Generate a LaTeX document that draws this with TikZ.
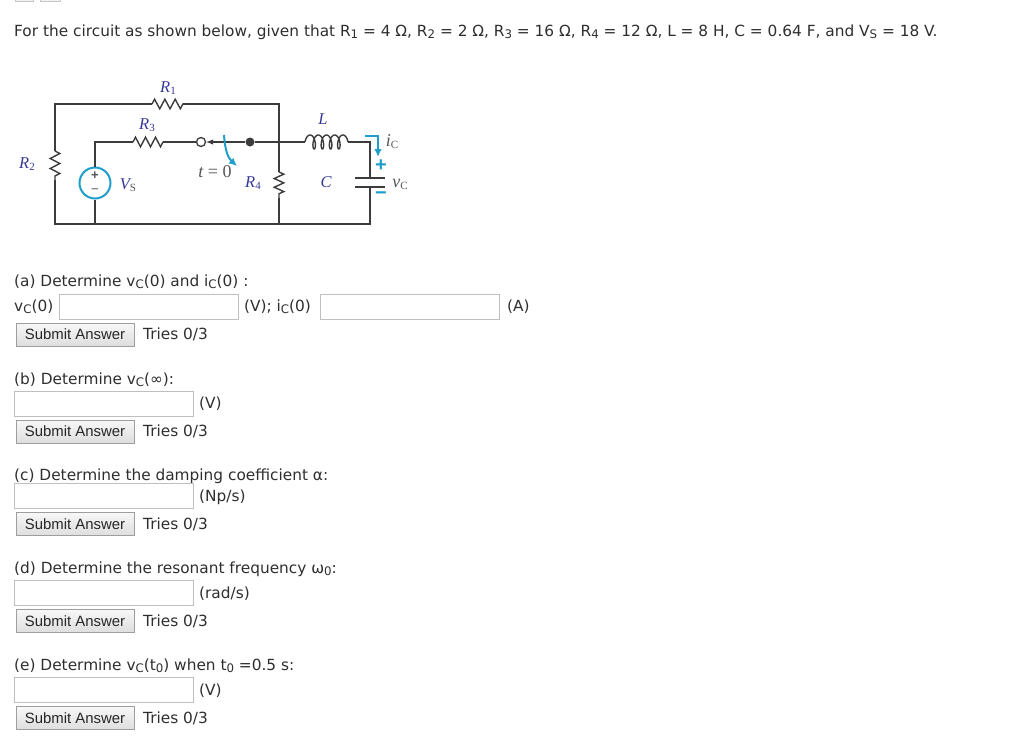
\documentclass[tikz,border=0pt]{standalone}
\usepackage{fontspec}
\setmainfont{DejaVu Sans}
\newfontfamily\btnfont{Liberation Sans}
\newfontfamily\lblfont{Liberation Serif}
\usetikzlibrary{arrows.meta,decorations.pathmorphing}
\definecolor{wirecol}{HTML}{3C3C3C}
\definecolor{txtcol}{HTML}{2E2E2E}
\definecolor{lblblue}{HTML}{37379A}
\definecolor{lblgray}{HTML}{555555}
\definecolor{srcblue}{HTML}{1E9FCB}
\newcommand{\lowsub}[1]{\raisebox{-2.8pt}{\fontsize{11.8}{11.8}\selectfont #1}}
\newcommand{\circsub}[1]{\raisebox{-2pt}{\fontsize{11}{11}\selectfont #1}}
\newcommand{\circlbl}[2]{{\lblfont\fontsize{16.5}{16.5}\selectfont\itshape #1\upshape\circsub{#2}}}
\tikzset{
  wire/.style={draw=wirecol, line width=1.4pt},
  resistor/.style={wire, decorate, decoration={zigzag, segment length=#1, amplitude=4.8pt}},
  bluearrow/.style={draw=srcblue, line width=2pt, -{Latex[length=8pt,width=7.5pt]}},
  qtext/.style={anchor=base west, inner sep=0pt, text=txtcol, font=\fontsize{15.35}{18}\selectfont},
  ansbox/.style={draw=black!25, fill=white, line width=.8pt, minimum width=179pt, minimum height=25pt, inner sep=0pt},
  submitbtn/.style={draw=black!38, line width=.7pt, top color=white!97!black, bottom color=black!13, minimum width=118pt,
    minimum height=23pt, inner sep=0pt, text=black!85, font=\btnfont\fontsize{14.9}{17}\selectfont},
  clbl/.style={inner sep=0pt, text=lblblue},
  glbl/.style={inner sep=0pt, text=lblgray},
  plusminus/.style={inner sep=0pt, text=srcblue, font=\btnfont\bfseries\fontsize{20}{20}\selectfont},
}
\begin{document}
\begin{tikzpicture}[>=latex, x=1pt, y=-1pt]
  \useasboundingbox (0,0) rectangle (1024,739);
  % page tabs cut off at the top
  \node[draw=black!22, fill=black!5, minimum width=18pt, minimum height=3pt, inner sep=0pt] (taba) at (24,0) {};
  \node[draw=black!22, fill=black!5, minimum width=20pt, minimum height=3pt, inner sep=0pt] (tabb) at (50,0) {};
  \node[qtext] (title) at (14,36) {For the circuit as shown below, given that R\lowsub{1} = 4 Ω, R\lowsub{2} = 2 Ω, R\lowsub{3} = 16 Ω, R\lowsub{4} = 12 Ω, L = 8 H, C = 0.64 F, and V\lowsub{S} = 18 V.};

  % circuit
  \coordinate (tl) at (55,104);
  \coordinate (tr) at (279,104);
  \coordinate (bl) at (55,224);
  \coordinate (bm) at (95,224);
  \coordinate (br) at (279,224);
  \coordinate (bc) at (370,224);
  \coordinate (srctop) at (95,142);
  \coordinate (capcorner) at (370,142);
  \coordinate (rAl) at (152,104);
  \coordinate (rAr) at (183,104);
  \coordinate (rBt) at (55,151);
  \coordinate (rBb) at (55,180);
  \coordinate (rCl) at (133,142);
  \coordinate (rCr) at (163,142);
  \coordinate (rDt) at (279,172);
  \coordinate (rDb) at (279,198);
  \coordinate (coilL) at (305,142);
  \coordinate (coilR) at (348,142);
  \coordinate (plateA) at (370,178);
  \coordinate (plateB) at (370,187);
  \node[circle, draw=srcblue, line width=2pt, fill=white, minimum size=31pt, inner sep=0pt] (vsrc) at (95,183) {};
  \node[circle, draw=wirecol, line width=1.3pt, fill=white, minimum size=9pt, inner sep=0pt] (swopen) at (201,142) {};
  \node[circle, fill=wirecol, minimum size=9pt, inner sep=0pt] (swdot) at (250,142) {};
  \draw[wire] (rAl) -- (tl) -- (rBt);
  \draw[wire] (rAr) -- (tr) -- (rDt);
  \draw[wire] (rBb) -- (bl) -- (bc) -- (plateB);
  \draw[wire] (rDb) -- (br);
  \draw[wire] (vsrc.north) -- (srctop) -- (rCl);
  \draw[wire] (vsrc.south) -- (bm);
  \draw[wire] (rCr) -- (swopen);
  \draw[wire, ->] (swdot) -- (swopen);
  \draw[wire] (swdot) -- (coilL);
  \draw[wire] (coilR) -- (capcorner) -- (plateA);
  \path[resistor=10.3pt] (rAl) -- (rAr);
  \path[resistor=10pt] (rBt) -- (rBb);
  \path[resistor=10pt] (rCl) -- (rCr);
  \path[resistor=8.7pt] (rDt) -- (rDb);
  \draw[wire, shift={(coilL)}] plot[domain=90:1710, samples=240] ({.02284*(\x-90)-3*(sin(\x)-1)}, {7*cos(\x)});
  \draw[wire] (355,178) -- (plateA) -- (385,178);
  \draw[wire] (355,187) -- (plateB) -- (385,187);
  \coordinate (swA) at (224,135);
  \coordinate (swB) at (237,166);
  \draw[bluearrow] (swA) .. controls (225,150) and (228,158) .. (swB);
  \coordinate (icA) at (365,136);
  \coordinate (icB) at (378,136);
  \coordinate (icC) at (378,157);
  \draw[bluearrow] (icA) -- (icB) -- (icC);
  \node[clbl] (lblRa) at (168,88) {\circlbl{R}{1}};
  \node[clbl] (lblRb) at (27,164) {\circlbl{R}{2}};
  \node[clbl] (lblRc) at (147,125) {\circlbl{R}{3}};
  \node[clbl] (lblRd) at (253,183) {\circlbl{R}{4}};
  \node[clbl] (lblL) at (323,120) {\circlbl{L}{}};
  \node[clbl] (lblC) at (326,183) {\circlbl{C}{}};
  \node[clbl] (lblVs) at (128,185) {\lblfont\fontsize{16.5}{16.5}\selectfont\itshape V\upshape\textcolor{lblgray}{\circsub{S}}};
  \node[glbl] (lblT) at (215,172) {\lblfont\fontsize{18}{18}\selectfont\itshape t\upshape\ = 0};
  \node[glbl] (lblIc) at (392,142) {\lblfont\fontsize{18}{18}\selectfont\itshape i\upshape\circsub{C}};
  \node[glbl] (lblVc) at (400,184) {\lblfont\fontsize{18}{18}\selectfont\itshape v\upshape\circsub{C}};
  \node[plusminus] (capplus) at (381,166) {+};
  \node[plusminus] (capminus) at (381,196) {−};
  \node[glbl, font=\btnfont\bfseries\fontsize{13}{13}\selectfont] (srcplus) at (95,176) {+};
  \node[glbl, font=\btnfont\bfseries\fontsize{13}{13}\selectfont, text=black!45] (srcminus) at (95,191) {−};

  % part a
  \node[qtext] (qa) at (14,286) {(a) Determine v\lowsub{C}(0) and i\lowsub{C}(0) :};
  \node[qtext] (qavc) at (14,311) {v\lowsub{C}(0)};
  \node[ansbox] (boxav) at (149,306.5) {};
  \node[qtext] (qaunit) at (244,311) {(V); i\lowsub{C}(0)};
  \node[ansbox] (boxai) at (410,306.5) {};
  \node[qtext] (qaamp) at (507,311) {(A)};
  % parts b to e
  \node[qtext] (qb) at (14,384) {(b) Determine v\lowsub{C}(∞):};
  \node[qtext] (qc) at (14,480) {(c) Determine the damping coefficient α:};
  \node[qtext] (qd) at (14,573) {(d) Determine the resonant frequency ω\lowsub{0}:};
  \node[qtext] (qe) at (14,670) {(e) Determine v\lowsub{C}(t\lowsub{0}) when t\lowsub{0} =0.5 s:};
  \foreach \nm/\yb/\unit in {b/403.5/{(V)}, c/496/{(Np/s)}, d/593/{(rad/s)}, e/690/{(V)}} {
    \node[ansbox] (box\nm) at (103.5,\yb) {};
    \node[qtext] (unit\nm) at (199,\yb+5) {\unit};
  }
  \foreach \nm/\yb in {a/334.5, b/431.5, c/524, d/621, e/718} {
    \node[submitbtn] (btn\nm) at (75,\yb) {Submit Answer};
    \node[qtext] (tries\nm) at (143,\yb+5) {Tries 0/3};
  }
\end{tikzpicture}
\end{document}
